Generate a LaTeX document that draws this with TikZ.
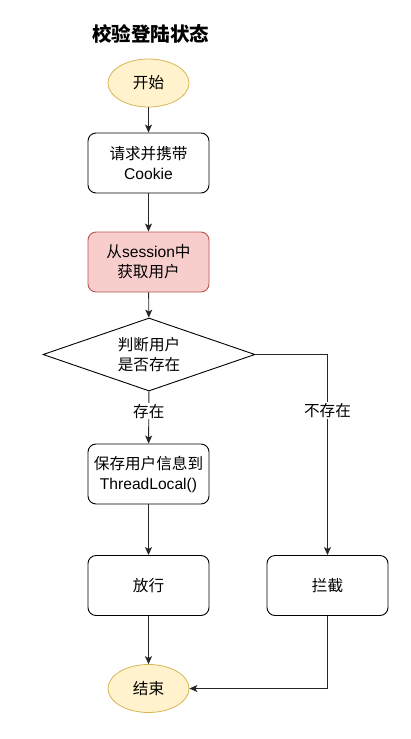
\documentclass[tikz,border=0pt]{standalone}
\usepackage{fontspec}
\setmainfont{Liberation Sans}
\newfontfamily\cjk{Noto Sans CJK SC}
\usetikzlibrary{shapes.geometric,arrows.meta}
\definecolor{termfill}{HTML}{FFF2CC}
\definecolor{termdraw}{HTML}{D6B656}
\definecolor{sessfill}{HTML}{F8CECC}
\definecolor{sessdraw}{HTML}{B85450}
\tikzset{
  txt/.style={font=\fontsize{15.6}{20}\selectfont, align=center},
  term/.style={txt, ellipse, draw=termdraw, fill=termfill, line width=0.8pt, minimum width=81pt, minimum height=48pt, inner sep=0pt},
  stepbox/.style={txt, draw, rounded corners=8pt, line width=0.9pt, minimum width=121pt, minimum height=60pt, inner sep=0pt},
  check/.style={txt, diamond, draw, line width=0.9pt, shape aspect=2.9, minimum width=212pt, minimum height=73pt, inner sep=0pt},
  flow/.style={draw=black!85, line width=0.9pt, -{Stealth[length=8pt,width=7pt,inset=2pt]}},
  lbl/.style={txt, fill=white, inner sep=1pt}
}
\begin{document}
\begin{tikzpicture}[x=1pt,y=-1pt]
\useasboundingbox (0,0) rectangle (410,739);

\node[font=\fontsize{19.5}{22}\selectfont\cjk\bfseries] (title) at (150.5,34) {校验登陆状态};

\node[term] (start) at (148.5,83) {\cjk 开始};
\node[stepbox] (req) at (148.5,163) {{\cjk 请求并携带}\\Cookie};
\node[stepbox, draw=sessdraw, fill=sessfill] (sess) at (148.5,262) {{\cjk 从}session{\cjk 中}\\{\cjk 获取用户}};
\node[check] (judge) at (149,354.5) {{\cjk 判断用户}\\{\cjk 是否存在}};
\node[stepbox] (save) at (148.5,474) {{\cjk 保存用户信息到}\\ThreadLocal()};
\node[stepbox] (pass) at (148.5,585.5) {\cjk 放行};
\node[stepbox] (block) at (327.5,585.5) {\cjk 拦截};
\node[term] (finish) at (148.5,688.5) {\cjk 结束};

% connectors
\draw[flow] (start) -- (req);
\draw[flow] (req) -- (sess);
\draw[flow] (sess) -- (judge);
\draw[flow] (judge) -- node[lbl, pos=0.38]{\cjk 存在} (save);
\draw[flow] (judge.east) -| node[lbl, pos=0.64]{\cjk 不存在} (block);
\draw[flow] (save) -- (pass);
\draw[flow] (pass) -- (finish);
\draw[flow] (block) |- (finish);
\end{tikzpicture}
\end{document}
